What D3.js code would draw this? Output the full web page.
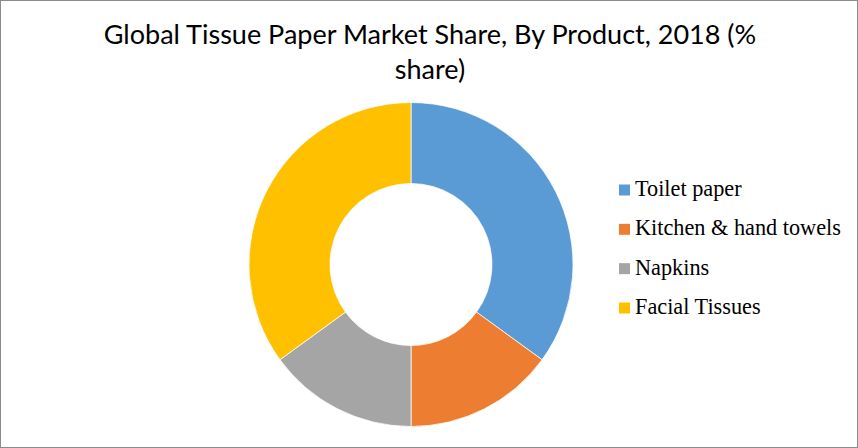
<!DOCTYPE html>
<html>
<head>
<meta charset="utf-8">
<script src="https://cdn.jsdelivr.net/npm/d3@7"></script>
<style>
  body { margin: 0; background: #fff; }
  svg { display: block; }
</style>
</head>
<body>
<div id="chart"></div>
<script>
// data
const titleLines = ["Global Tissue Paper Market Share, By Product, 2018 (%", "share)"];
const categories = ["Toilet paper", "Kitchen & hand towels", "Napkins", "Facial Tissues"];
const shares = [35, 15, 15, 35];
const colors = ["#5b9bd5", "#ed7d31", "#a5a5a5", "#ffc000"];

const width = 858, height = 448;

const svg = d3.select("#chart").append("svg")
    .attr("width", width)
    .attr("height", height);

// chart area border
svg.append("rect")
    .attr("x", 0.5).attr("y", 0.5)
    .attr("width", width - 1).attr("height", height - 1)
    .attr("fill", "#fff")
    .attr("stroke", "#8c8c8c");

// title, fitted to the width of the first line
const title = svg.append("g").attr("class", "title");
const lineTexts = title.selectAll("text")
    .data(titleLines)
    .join("text")
    .attr("x", 430)
    .attr("y", (d, i) => 44 + i * 35)
    .attr("text-anchor", "middle")
    .style("font-family", "Lato, sans-serif")
    .style("font-size", "24px")
    .attr("fill", "#000")
    .text(d => d);
let w0 = lineTexts.nodes()[0].getComputedTextLength();
lineTexts.style("font-size", (24 * 653 / w0) + "px");

// donut
const cx = 411, cy = 264.5;
const outerR = 162, innerR = 81;

const pie = d3.pie().sort(null).value(d => d);
const arc = d3.arc().innerRadius(innerR).outerRadius(outerR);

const g = svg.append("g").attr("transform", `translate(${cx},${cy})`);
g.selectAll("path")
    .data(pie(shares))
    .join("path")
    .attr("d", arc)
    .attr("fill", (d, i) => colors[i])
    .attr("stroke", "#fff")
    .attr("stroke-width", 0.75);

// legend
const legend = svg.append("g").attr("transform", "translate(619,0)");
const rowY = d3.scalePoint().domain(categories).range([196, 314]);

const items = legend.selectAll("g")
    .data(categories)
    .join("g")
    .attr("transform", d => `translate(0,${rowY(d)})`);

items.append("rect")
    .attr("x", 0).attr("y", -11.5)
    .attr("width", 11).attr("height", 11)
    .attr("fill", (d, i) => colors[i]);

const labels = items.append("text")
    .attr("x", 16)
    .attr("y", 0)
    .style("font-family", "'Liberation Serif', serif")
    .style("font-size", "18px")
    .attr("fill", "#000")
    .text(d => d);
let w1 = labels.nodes()[1].getComputedTextLength();
labels.style("font-size", (18 * 206 / w1) + "px");
</script>
</body>
</html>
